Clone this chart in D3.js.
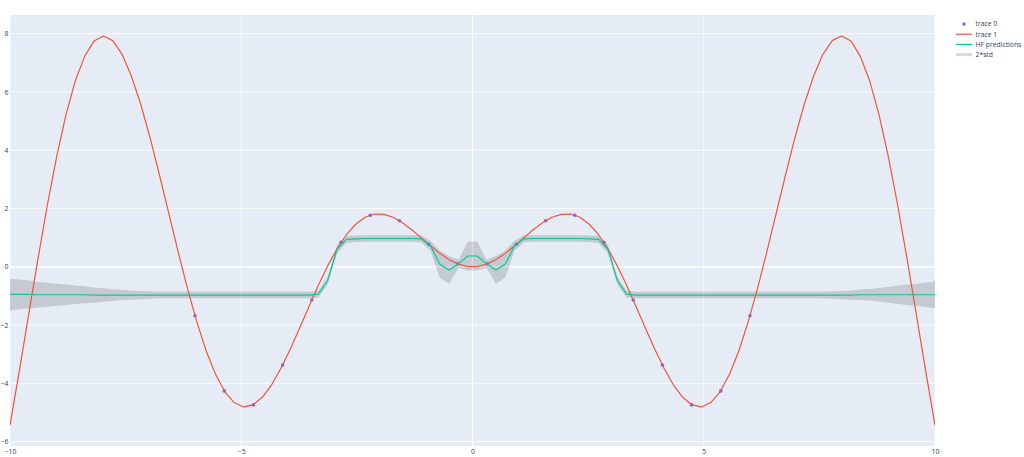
<!DOCTYPE html>
<html>
<head>
<meta charset="utf-8">
<script src="https://cdn.jsdelivr.net/npm/d3@7"></script>
<style>
  html, body { margin: 0; padding: 0; background: #fff; }
  svg text { font-family: "Open Sans", verdana, arial, sans-serif; }
</style>
</head>
<body>
<svg id="chart" width="1024" height="457"></svg>
<script>
// ---------- data ----------
// evaluation grid (x) for trace 1, HF predictions and 2*std
const xGrid = [
  -10.0, -9.798, -9.596, -9.394, -9.192, -8.990, -8.788, -8.586, -8.384, -8.182,
  -7.980, -7.778, -7.576, -7.374, -7.172, -6.970, -6.768, -6.566, -6.364, -6.162,
  -5.960, -5.758, -5.556, -5.354, -5.152, -4.949, -4.747, -4.545, -4.343, -4.141,
  -3.939, -3.737, -3.535, -3.333, -3.131, -2.929, -2.727, -2.525, -2.323, -2.121,
  -1.919, -1.717, -1.515, -1.313, -1.111, -0.909, -0.707, -0.505, -0.303, -0.101,
  0.101, 0.303, 0.505, 0.707, 0.909, 1.111, 1.313, 1.515, 1.717, 1.919,
  2.121, 2.323, 2.525, 2.727, 2.929, 3.131, 3.333, 3.535, 3.737, 3.939,
  4.141, 4.343, 4.545, 4.747, 4.949, 5.152, 5.354, 5.556, 5.758, 5.960,
  6.162, 6.364, 6.566, 6.768, 6.970, 7.172, 7.374, 7.576, 7.778, 7.980,
  8.182, 8.384, 8.586, 8.788, 8.990, 9.192, 9.394, 9.596, 9.798, 10.0
];
// trace 1 (red line)
const trace1Y = [
  -5.44, -3.57, -1.63, 0.29, 2.12, 3.79, 5.23, 6.39, 7.23, 7.75,
  7.92, 7.76, 7.29, 6.54, 5.57, 4.42, 3.15, 1.83, 0.51, -0.75,
  -1.89, -2.89, -3.69, -4.29, -4.66, -4.81, -4.74, -4.48, -4.05, -3.48,
  -2.82, -2.10, -1.36, -0.63, 0.03, 0.62, 1.10, 1.46, 1.70, 1.81,
  1.80, 1.70, 1.51, 1.27, 1.00, 0.72, 0.46, 0.24, 0.09, 0.01,
  0.01, 0.09, 0.24, 0.46, 0.72, 1.00, 1.27, 1.51, 1.70, 1.80,
  1.81, 1.70, 1.46, 1.10, 0.62, 0.03, -0.63, -1.36, -2.10, -2.82,
  -3.48, -4.05, -4.48, -4.74, -4.81, -4.66, -4.29, -3.69, -2.89, -1.89,
  -0.75, 0.51, 1.83, 3.15, 4.42, 5.57, 6.54, 7.29, 7.76, 7.92,
  7.75, 7.23, 6.39, 5.23, 3.79, 2.12, 0.29, -1.63, -3.57, -5.44
];
// HF predictions (green line)
const hfMean = [
  -0.95, -0.95, -0.95, -0.96, -0.96, -0.96, -0.96, -0.96, -0.96, -0.97,
  -0.97, -0.97, -0.97, -0.97, -0.97, -0.97, -0.97, -0.97, -0.97, -0.97,
  -0.97, -0.97, -0.97, -0.97, -0.97, -0.97, -0.97, -0.97, -0.97, -0.97,
  -0.97, -0.97, -0.97, -0.94, -0.47, 0.60, 0.94, 0.96, 0.97, 0.97,
  0.97, 0.97, 0.97, 0.97, 0.96, 0.72, 0.09, -0.11, 0.10, 0.37,
  0.37, 0.10, -0.11, 0.09, 0.72, 0.96, 0.97, 0.97, 0.97, 0.97,
  0.97, 0.97, 0.96, 0.94, 0.60, -0.47, -0.94, -0.97, -0.97, -0.97,
  -0.97, -0.97, -0.97, -0.97, -0.97, -0.97, -0.97, -0.97, -0.97, -0.97,
  -0.97, -0.97, -0.97, -0.97, -0.97, -0.97, -0.97, -0.97, -0.97, -0.97,
  -0.97, -0.96, -0.96, -0.96, -0.96, -0.96, -0.96, -0.96, -0.96, -0.96
];
// 2*std half-width of the grey band
const hfTwoStd = [
  0.54, 0.51, 0.48, 0.44, 0.41, 0.38, 0.35, 0.32, 0.29, 0.26,
  0.23, 0.20, 0.18, 0.16, 0.14, 0.13, 0.11, 0.11, 0.11, 0.11,
  0.11, 0.11, 0.11, 0.11, 0.11, 0.11, 0.11, 0.11, 0.11, 0.11,
  0.11, 0.11, 0.11, 0.12, 0.14, 0.14, 0.12, 0.11, 0.11, 0.11,
  0.11, 0.11, 0.11, 0.11, 0.12, 0.17, 0.47, 0.47, 0.14, 0.50,
  0.50, 0.14, 0.47, 0.47, 0.17, 0.12, 0.11, 0.11, 0.11, 0.11,
  0.11, 0.11, 0.11, 0.12, 0.14, 0.14, 0.12, 0.11, 0.11, 0.11,
  0.11, 0.11, 0.11, 0.11, 0.11, 0.11, 0.11, 0.11, 0.11, 0.11,
  0.11, 0.11, 0.11, 0.11, 0.11, 0.11, 0.11, 0.12, 0.13, 0.14,
  0.16, 0.18, 0.20, 0.23, 0.27, 0.32, 0.35, 0.38, 0.42, 0.46
];
// trace 0 (blue markers)
const trace0X = [-6.0, -5.368, -4.737, -4.105, -3.474, -2.842, -2.211, -1.579, -0.947, -0.316,
                 0.316, 0.947, 1.579, 2.211, 2.842, 3.474, 4.105, 4.737, 5.368, 6.0];
const trace0Y = [-1.68, -4.26, -4.74, -3.37, -1.14, 0.84, 1.77, 1.58, 0.77, 0.10,
                 0.10, 0.77, 1.58, 1.77, 0.84, -1.14, -3.37, -4.74, -4.26, -1.68];
const xTicks = [-10, -5, 0, 5, 10];
const yTicks = [-6, -4, -2, 0, 2, 4, 6, 8];
const legendNames = ["trace 0", "trace 1", "HF predictions", "2*std"];

// ---------- layout ----------
const W = 1024, H = 457;
const plot = { left: 10, right: 935, top: 15, bottom: 446 };
const colors = { bg: "#E5ECF6", red: "#EF553B", green: "#00CC96", blue: "#636EFA",
                 band: "rgba(68,68,68,0.2)", text: "#2a3f5f" };
const fontSize = 6.8;

const svg = d3.select("#chart");
svg.append("rect").attr("width", W).attr("height", H).attr("fill", "#fff");
svg.append("rect").attr("x", plot.left).attr("y", plot.top)
   .attr("width", plot.right - plot.left).attr("height", plot.bottom - plot.top)
   .attr("fill", colors.bg);

const x = d3.scaleLinear().domain([-10, 10]).range([plot.left, plot.right]);
const y = d3.scaleLinear().domain([-6.15, 8.64]).range([plot.bottom, plot.top]);

const fmt = v => (v < 0 ? "\u2212" + Math.abs(v) : String(v));

// grid
const grid = svg.append("g");
grid.selectAll(".gx").data(xTicks).join("line")
  .attr("x1", d => x(d)).attr("x2", d => x(d))
  .attr("y1", plot.top).attr("y2", plot.bottom)
  .attr("stroke", "#fff").attr("stroke-width", d => d === 0 ? 1.4 : 0.8);
grid.selectAll(".gy").data(yTicks).join("line")
  .attr("x1", plot.left).attr("x2", plot.right)
  .attr("y1", d => y(d)).attr("y2", d => y(d))
  .attr("stroke", "#fff").attr("stroke-width", d => d === 0 ? 1.4 : 0.8);

// axes labels via d3 axes
const xAxis = d3.axisBottom(x).tickValues(xTicks).tickFormat(fmt).tickSize(0).tickPadding(3);
const gx = svg.append("g").attr("transform", `translate(0,${plot.bottom})`).call(xAxis);
gx.select(".domain").remove();
gx.selectAll("text").attr("fill", colors.text).attr("font-size", fontSize)
  .attr("font-family", '"Open Sans", verdana, arial, sans-serif');

const yAxis = d3.axisLeft(y).tickValues(yTicks).tickFormat(fmt).tickSize(0).tickPadding(1.5);
const gy = svg.append("g").attr("transform", `translate(${plot.left},0)`).call(yAxis);
gy.select(".domain").remove();
gy.selectAll("text").attr("fill", colors.text).attr("font-size", fontSize)
  .attr("font-family", '"Open Sans", verdana, arial, sans-serif');

// clip
svg.append("clipPath").attr("id", "clip").append("rect")
  .attr("x", plot.left).attr("y", plot.top)
  .attr("width", plot.right - plot.left).attr("height", plot.bottom - plot.top);
const g = svg.append("g").attr("clip-path", "url(#clip)");

// band
const bandData = xGrid.map((xv, i) => ({ x: xv, lo: hfMean[i] - hfTwoStd[i], hi: hfMean[i] + hfTwoStd[i] }));
g.append("path").datum(bandData)
  .attr("d", d3.area().x(d => x(d.x)).y0(d => y(d.lo)).y1(d => y(d.hi)))
  .attr("fill", colors.band).attr("stroke", "none");

// trace 0 markers
g.selectAll(".pt").data(trace0X.map((xv, i) => ({ x: xv, y: trace0Y[i] }))).join("circle")
  .attr("cx", d => x(d.x)).attr("cy", d => y(d.y)).attr("r", 1.8)
  .attr("fill", colors.blue);

// trace 1
const lineGen = d3.line().x(d => x(d.x)).y(d => y(d.y));
g.append("path").datum(xGrid.map((xv, i) => ({ x: xv, y: trace1Y[i] })))
  .attr("d", lineGen).attr("fill", "none").attr("stroke", colors.red)
  .attr("stroke-width", 1.2).attr("stroke-linejoin", "round");

// HF predictions
g.append("path").datum(xGrid.map((xv, i) => ({ x: xv, y: hfMean[i] })))
  .attr("d", lineGen).attr("fill", "none").attr("stroke", colors.green)
  .attr("stroke-width", 1.2).attr("stroke-linejoin", "round");

// legend
const leg = svg.append("g");
const rowY = [24, 34.2, 44.4, 54.6];
legendNames.forEach((name, i) => {
  const ry = rowY[i];
  if (i === 0) {
    leg.append("circle").attr("cx", 964).attr("cy", ry).attr("r", 1.8).attr("fill", colors.blue);
  } else if (i === 1) {
    leg.append("line").attr("x1", 956).attr("x2", 972).attr("y1", ry).attr("y2", ry)
      .attr("stroke", colors.red).attr("stroke-width", 1.2);
  } else if (i === 2) {
    leg.append("line").attr("x1", 956).attr("x2", 972).attr("y1", ry).attr("y2", ry)
      .attr("stroke", colors.green).attr("stroke-width", 1.2);
  } else {
    leg.append("rect").attr("x", 956).attr("y", ry - 1.5).attr("width", 16).attr("height", 3)
      .attr("fill", colors.band);
  }
  leg.append("text").attr("x", 975.5).attr("y", ry).attr("dy", "0.35em")
    .attr("font-size", fontSize).attr("fill", colors.text).text(name);
});
</script>
</body>
</html>
